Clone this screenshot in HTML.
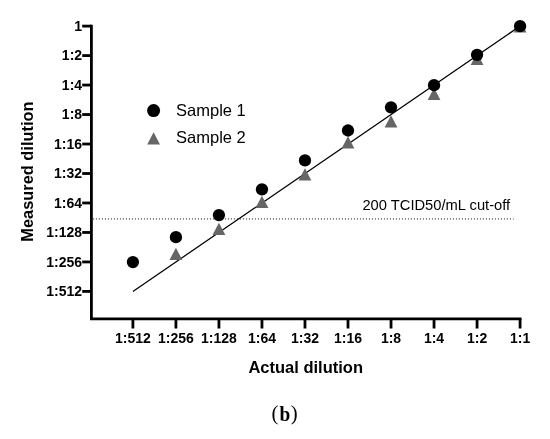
<!DOCTYPE html>
<html><head><meta charset="utf-8"><title>Dilution chart</title>
<style>
html,body{margin:0;padding:0;background:#fff;}
body{width:550px;height:439px;overflow:hidden;}
svg{display:block;}
.b{font-family:"Liberation Sans",Arial,sans-serif;font-weight:bold;fill:#000;}
.r{font-family:"Liberation Sans",Arial,sans-serif;fill:#000;}
.s{font-family:"Liberation Serif","DejaVu Serif",serif;fill:#000;}
</style></head><body>
<svg width="550" height="439" viewBox="0 0 550 439">
<rect width="550" height="439" fill="#fff"/>
<line x1="92.9" y1="218.9" x2="513.6" y2="218.9" stroke="#7d7d7d" stroke-width="1.6" stroke-dasharray="1.05 1.95"/>
<line x1="132.90" y1="291.42" x2="520.08" y2="26.10" stroke="#000" stroke-width="1.25"/>
<path d="M91.40 24.70V318.90H521.48" fill="none" stroke="#000" stroke-width="2.8" stroke-linejoin="miter"/>
<line x1="82.2" y1="26.10" x2="91.40" y2="26.10" stroke="#000" stroke-width="2.8"/>
<text class="b" x="82.1" y="30.70" font-size="14" text-anchor="end">1</text>
<line x1="82.2" y1="55.58" x2="91.40" y2="55.58" stroke="#000" stroke-width="2.8"/>
<text class="b" x="82.1" y="60.18" font-size="14" text-anchor="end">1:2</text>
<line x1="82.2" y1="85.06" x2="91.40" y2="85.06" stroke="#000" stroke-width="2.8"/>
<text class="b" x="82.1" y="89.66" font-size="14" text-anchor="end">1:4</text>
<line x1="82.2" y1="114.54" x2="91.40" y2="114.54" stroke="#000" stroke-width="2.8"/>
<text class="b" x="82.1" y="119.14" font-size="14" text-anchor="end">1:8</text>
<line x1="82.2" y1="144.02" x2="91.40" y2="144.02" stroke="#000" stroke-width="2.8"/>
<text class="b" x="82.1" y="148.62" font-size="14" text-anchor="end">1:16</text>
<line x1="82.2" y1="173.50" x2="91.40" y2="173.50" stroke="#000" stroke-width="2.8"/>
<text class="b" x="82.1" y="178.10" font-size="14" text-anchor="end">1:32</text>
<line x1="82.2" y1="202.98" x2="91.40" y2="202.98" stroke="#000" stroke-width="2.8"/>
<text class="b" x="82.1" y="207.58" font-size="14" text-anchor="end">1:64</text>
<line x1="82.2" y1="232.46" x2="91.40" y2="232.46" stroke="#000" stroke-width="2.8"/>
<text class="b" x="82.1" y="237.06" font-size="14" text-anchor="end">1:128</text>
<line x1="82.2" y1="261.94" x2="91.40" y2="261.94" stroke="#000" stroke-width="2.8"/>
<text class="b" x="82.1" y="266.54" font-size="14" text-anchor="end">1:256</text>
<line x1="82.2" y1="291.42" x2="91.40" y2="291.42" stroke="#000" stroke-width="2.8"/>
<text class="b" x="82.1" y="296.02" font-size="14" text-anchor="end">1:512</text>
<line x1="132.90" y1="318.90" x2="132.90" y2="328.5" stroke="#000" stroke-width="2.8"/>
<text class="b" x="132.90" y="342.9" font-size="14" text-anchor="middle">1:512</text>
<line x1="175.92" y1="318.90" x2="175.92" y2="328.5" stroke="#000" stroke-width="2.8"/>
<text class="b" x="175.92" y="342.9" font-size="14" text-anchor="middle">1:256</text>
<line x1="218.94" y1="318.90" x2="218.94" y2="328.5" stroke="#000" stroke-width="2.8"/>
<text class="b" x="218.94" y="342.9" font-size="14" text-anchor="middle">1:128</text>
<line x1="261.96" y1="318.90" x2="261.96" y2="328.5" stroke="#000" stroke-width="2.8"/>
<text class="b" x="261.96" y="342.9" font-size="14" text-anchor="middle">1:64</text>
<line x1="304.98" y1="318.90" x2="304.98" y2="328.5" stroke="#000" stroke-width="2.8"/>
<text class="b" x="304.98" y="342.9" font-size="14" text-anchor="middle">1:32</text>
<line x1="348.00" y1="318.90" x2="348.00" y2="328.5" stroke="#000" stroke-width="2.8"/>
<text class="b" x="348.00" y="342.9" font-size="14" text-anchor="middle">1:16</text>
<line x1="391.02" y1="318.90" x2="391.02" y2="328.5" stroke="#000" stroke-width="2.8"/>
<text class="b" x="391.02" y="342.9" font-size="14" text-anchor="middle">1:8</text>
<line x1="434.04" y1="318.90" x2="434.04" y2="328.5" stroke="#000" stroke-width="2.8"/>
<text class="b" x="434.04" y="342.9" font-size="14" text-anchor="middle">1:4</text>
<line x1="477.06" y1="318.90" x2="477.06" y2="328.5" stroke="#000" stroke-width="2.8"/>
<text class="b" x="477.06" y="342.9" font-size="14" text-anchor="middle">1:2</text>
<line x1="520.08" y1="318.90" x2="520.08" y2="328.5" stroke="#000" stroke-width="2.8"/>
<text class="b" x="520.08" y="342.9" font-size="14" text-anchor="middle">1:1</text>
<polygon points="175.92,247.70 169.52,259.90 182.32,259.90" fill="#666"/>
<polygon points="218.94,222.85 212.54,235.05 225.34,235.05" fill="#666"/>
<polygon points="261.96,195.85 255.56,208.05 268.36,208.05" fill="#666"/>
<polygon points="304.98,168.20 298.58,180.40 311.38,180.40" fill="#666"/>
<polygon points="348.00,136.20 341.60,148.40 354.40,148.40" fill="#666"/>
<polygon points="391.02,115.35 384.62,127.55 397.42,127.55" fill="#666"/>
<polygon points="434.04,87.80 427.64,100.00 440.44,100.00" fill="#666"/>
<polygon points="477.06,52.80 470.66,65.00 483.46,65.00" fill="#666"/>
<polygon points="520.08,20.40 513.68,32.60 526.48,32.60" fill="#666"/>
<circle cx="132.90" cy="262.10" r="6.15" fill="#000"/>
<circle cx="175.92" cy="237.20" r="6.15" fill="#000"/>
<circle cx="218.94" cy="215.05" r="6.15" fill="#000"/>
<circle cx="261.96" cy="189.30" r="6.15" fill="#000"/>
<circle cx="304.98" cy="160.40" r="6.15" fill="#000"/>
<circle cx="348.00" cy="130.50" r="6.15" fill="#000"/>
<circle cx="391.02" cy="107.30" r="6.15" fill="#000"/>
<circle cx="434.04" cy="85.20" r="6.15" fill="#000"/>
<circle cx="477.06" cy="54.80" r="6.15" fill="#000"/>
<circle cx="520.08" cy="26.15" r="6.15" fill="#000"/>
<circle cx="153.6" cy="110.6" r="6.5" fill="#000"/>
<polygon points="153.60,132.30 147.20,144.50 160.00,144.50" fill="#666"/>
<text class="r" x="176.1" y="115.6" font-size="16.5">Sample 1</text>
<text class="r" x="176.1" y="142.6" font-size="16.5">Sample 2</text>
<text class="r" x="362.4" y="209.6" font-size="14.73">200 TCID50/mL cut-off</text>
<text class="b" x="305.7" y="372.8" font-size="16.5" text-anchor="middle">Actual dilution</text>
<text class="b" transform="translate(33.4 171.6) rotate(-90)" font-size="16.4" text-anchor="middle">Measured dilution</text>
<text class="s" x="271.6" y="420.3" font-size="20.8">(</text>
<text class="s" transform="translate(279.6 420.6) scale(0.9 1)" font-size="21.5" font-weight="bold">b</text>
<text class="s" x="290.7" y="420.3" font-size="20.8">)</text>
</svg>
</body></html>
